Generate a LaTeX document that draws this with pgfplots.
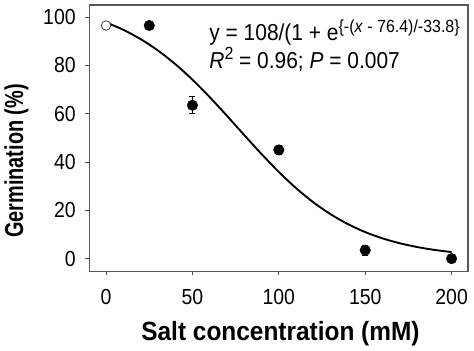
\documentclass[border=0pt]{standalone}
\usepackage{pgfplots}
\pgfplotsset{compat=1.18}
\usepackage{fontspec}
\setmainfont{Liberation Sans}
\newcommand{\eqfont}{\fontsize{21bp}{24bp}\selectfont}
\newcommand{\supfont}{\fontsize{16bp}{18bp}\selectfont}
\begin{document}
\begin{tikzpicture}
\path (0,0) rectangle (474bp,352bp);
\begin{axis}[
  at={(88bp,80bp)}, anchor=south west,
  scale only axis, width=380bp, height=267bp,
  xmin=-9.8, xmax=209.5, ymin=-5.2, ymax=105,
  xtick={0,50,100,150,200}, ytick={0,20,40,60,80,100},
  tick align=outside, tick pos=left,
  major tick length=4bp,
  axis line style={draw=black!65, line width=1.1pt},
  every tick/.style={black!70, line width=0.8pt},
  /pgf/number format/assume math mode=true,
  ticklabel style={font=\fontsize{19.5bp}{22bp}\selectfont, yscale=1.12},
  xticklabel style={yshift=-9bp},
  yticklabel style={xshift=-6bp},
  xlabel={\textbf{Salt concentration (mM)}},
  ylabel={\textbf{Germination (\%)}},
  xlabel style={font=\fontsize{24.5bp}{27bp}\selectfont, at={(axis description cs:0.505,-0.236)}, anchor=center, yscale=1.08},
  ylabel style={font=\fontsize{20bp}{24bp}\selectfont, at={(axis description cs:-0.192,0.414)}, anchor=center, yscale=1.3},
  clip=false,
]
% fitted curve, tabulated values
\addplot[black, line width=1.9pt, smooth] coordinates {
(0,97.80) (10,94.72) (20,90.87) (30,86.16) (40,80.56) (50,74.08) (60,66.85)
(70,59.10) (80,51.13) (90,43.28) (100,35.88) (110,29.17) (120,23.31) (130,18.36)
(140,14.28) (150,10.99) (160,8.40) (170,6.37) (180,4.81) (190,3.62) (200,2.72)};
% control (open)
\addplot[only marks, mark=*, mark size=4.8bp, mark options={fill=white, draw=black!75, line width=0.8pt}] coordinates {(0,96.5)};
\addplot[black!75, line width=0.8pt, forget plot] coordinates {(-2.7,96.5) (2.7,96.5)};
% salt treatments
\addplot[only marks, mark=*, mark size=5.3bp, mark options={fill=black, draw=black},
  error bars/.cd, y dir=both, y explicit,
  error bar style={line width=1pt, black},
  error mark options={rotate=90, mark size=3bp, line width=1pt}] coordinates {
(25,96.5) +- (0,0.5)
(50,63.5) +- (0,3.6)
(100,45.0) +- (0,2.0)
(150,3.5) +- (0,2.0)
(200,0.0) +- (0,0.3)};
\node[anchor=base west, font=\eqfont, inner sep=0pt, yscale=1.1]
  at (axis cs:59.7,90.2) {y = 108/(1 + e\raisebox{7.5bp}{\supfont\{-(\textit{x} - 76.4)/-33.8\}}};
\node[anchor=base west, font=\eqfont, inner sep=0pt, yscale=1.1]
  at (axis cs:59.7,78.9) {\textit{R}\raisebox{7.5bp}{\supfont 2} = 0.96; \textit{P} = 0.007};
\end{axis}
\end{tikzpicture}
\end{document}
